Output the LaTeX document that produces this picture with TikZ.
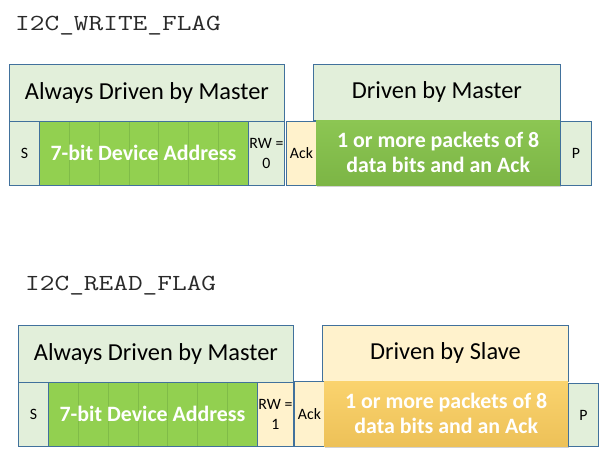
\documentclass[tikz,border=0pt]{standalone}
\usepackage{fontspec}
\setmainfont{Carlito}
\usetikzlibrary{shadows}
\definecolor{bord}{HTML}{41719C}
\definecolor{lgreen}{HTML}{E2EFDA}
\definecolor{lyellow}{HTML}{FFF2CC}
\definecolor{agreen}{HTML}{92D050}
\definecolor{adiv}{HTML}{80BC48}
\definecolor{dgreentop}{HTML}{8CC653}
\definecolor{dgreenbot}{HTML}{7CB545}
\definecolor{goldtop}{HTML}{FAD36E}
\definecolor{goldbot}{HTML}{EDC158}
\definecolor{titlecol}{HTML}{2A2A2A}
\newcommand{\flagtitle}[1]{\scalebox{1.24}[1]{\ttfamily\fontsize{23}{28}\selectfont #1}}
\tikzset{
  cellbox/.style={draw=bord, line width=0.9pt, inner sep=0pt, anchor=north west, align=center},
  hdrtext/.style={font=\fontsize{24.4}{29}\selectfont},
  smalltext/.style={font=\fontsize{15.8}{20}\selectfont},
  bigwhite/.style={text=white, font=\bfseries\fontsize{21.9}{25}\selectfont, align=center},
  bitcell/.style={draw=adiv, line width=0.8pt, fill=agreen, inner sep=0pt, anchor=north west, minimum width=29.857pt, minimum height=64pt},
  titletext/.style={text=titlecol, anchor=base west, inner sep=0pt},
  datashadow/.style={drop shadow={opacity=0.35, shadow xshift=0.8pt, shadow yshift=-1.8pt}},
}
\begin{document}
\begin{tikzpicture}[x=1pt, y=-1pt]
\useasboundingbox (0,0) rectangle (599,461);
\fill[white] (0,0) rectangle (599,461);

% ---------------- WRITE ----------------
\node[titletext] (t1) at (15,30) {\flagtitle{I2C\_WRITE\_FLAG}};

\node[cellbox, fill=lgreen, minimum width=275pt, minimum height=57pt, hdrtext] (m1) at (9,64) {Always Driven by Master};
\node[cellbox, fill=lgreen, minimum width=30pt, minimum height=64pt, smalltext] (s1) at (9,121) {S};
\foreach \i in {0,...,6} {
  \node[bitcell] (w\i) at ({39+\i*29.857},121) {};
}
\draw[bord, line width=0.9pt] (39,121) rectangle (248,185);
\node[bigwhite] (a1) at (143.5,153) {7-bit Device Address};
\node[cellbox, fill=lgreen, minimum width=36pt, minimum height=64pt, smalltext] (rw1) at (248,121) {RW =\\0};
\node[cellbox, fill=lyellow, minimum width=30pt, minimum height=64pt, smalltext] (ack1) at (286,121) {Ack};
\node[cellbox, fill=lgreen, minimum width=247pt, minimum height=56pt, hdrtext] (d1) at (313,64) {Driven by Master};
\node[anchor=north west, inner sep=0pt, minimum width=244pt, minimum height=65pt, top color=dgreentop, bottom color=dgreenbot, datashadow, bigwhite] (data1) at (316,120) {1 or more packets of 8\\data bits and an Ack};
\node[cellbox, fill=lgreen, minimum width=31pt, minimum height=64pt, smalltext] (p1) at (560,121) {P};

% ---------------- READ ----------------
\node[titletext] (t2) at (25,290) {\flagtitle{I2C\_READ\_FLAG}};

\node[cellbox, fill=lgreen, minimum width=275pt, minimum height=57pt, hdrtext] (m2) at (18,325) {Always Driven by Master};
\node[cellbox, fill=lgreen, minimum width=30pt, minimum height=64pt, smalltext] (s2) at (18,382) {S};
\foreach \i in {0,...,6} {
  \node[bitcell] (r\i) at ({48+\i*29.857},382) {};
}
\draw[bord, line width=0.9pt] (48,382) rectangle (257,446);
\node[bigwhite] (a2) at (152.5,414) {7-bit Device Address};
\node[cellbox, fill=lyellow, minimum width=36pt, minimum height=64pt, smalltext] (rw2) at (257,382) {RW =\\1};
\node[cellbox, fill=lyellow, minimum width=30pt, minimum height=65pt, smalltext] (ack2) at (294,381) {Ack};
\node[cellbox, fill=lyellow, minimum width=246pt, minimum height=56pt, hdrtext] (d2) at (322,325) {Driven by Slave};
\node[anchor=north west, inner sep=0pt, minimum width=244pt, minimum height=65pt, top color=goldtop, bottom color=goldbot, datashadow, bigwhite] (data2) at (324,381) {1 or more packets of 8\\data bits and an Ack};
\node[cellbox, fill=lgreen, minimum width=30pt, minimum height=63pt, smalltext] (p2) at (568,383) {P};
\end{tikzpicture}
\end{document}
